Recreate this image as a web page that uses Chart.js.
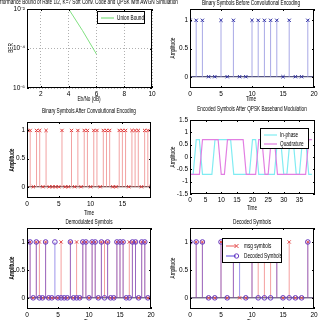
<!DOCTYPE html>
<html>
<head>
<meta charset="utf-8">
<script src="https://cdn.jsdelivr.net/npm/chart.js@4.4.1/dist/chart.umd.min.js"></script>
<style>
  body { margin: 0; background: #fff; }
  #fig { position: relative; width: 320px; height: 320px; overflow: hidden; background: #fff; }
  #fig canvas { position: absolute; }
  .t { position: absolute; font-family: 'Liberation Sans', Arial, sans-serif; font-size: 6.5px; line-height: 1;
       white-space: nowrap; color: #000; transform: translate(-50%, -50%) scaleX(0.72); }
  .r { transform: translate(-50%, -50%) rotate(-90deg) scaleX(0.72); }
  .b { font-weight: bold; }
  .lg { position: absolute; background: #fff; border: 1px solid #000; box-sizing: border-box; }
  .lg .row { position: absolute; left: 2px; height: 6px; }
  .lg svg { position: absolute; left: 0; top: 0; }
  .lg span { position: absolute; top: 3px; font-family: 'Liberation Sans', Arial, sans-serif; font-size: 6.5px; line-height: 1;
             white-space: nowrap; transform-origin: 0 50%; transform: translateY(-50%) scaleX(0.72); }
</style>
</head>
<body>
<div id="fig"></div>
<script>
// BER vs Eb/No (union bound)
const ebno = [4, 5, 6];
const unionBound = [1.0e-2, 8.0e-4, 5.2e-5];
const berTicksX = [2, 4, 6, 8, 10];
const berTicksY = [1e-6, 1e-4, 1e-2];
const berTickLabels = ['10⁻⁶', '10⁻⁴', '10⁻²'];

// message bits
const msgTime = [0, 1, 2, 3, 4, 5, 6, 7, 8, 9, 10, 11, 12, 13, 14, 15, 16, 17, 18, 19];
const msgBits = [1, 1, 1, 0, 0, 1, 0, 1, 0, 0, 1, 1, 1, 1, 1, 0, 1, 0, 0, 1];
const decodedBits = [1, 1, 1, 0, 0, 1, 0, 1, 1, 0, 1, 0, 0, 0, 1, 0, 0, 0, 0, 1];

// encoded bits (two per message bit)
const encTime = [0, 0.5, 1, 1.5, 2, 2.5, 3, 3.5, 4, 4.5, 5, 5.5, 6, 6.5, 7, 7.5, 8, 8.5, 9, 9.5,
                 10, 10.5, 11, 11.5, 12, 12.5, 13, 13.5, 14, 14.5, 15, 15.5, 16, 16.5, 17, 17.5, 18, 18.5, 19, 19.5];
const encBits = [1, 1, 0, 1, 1, 0, 1, 0, 0, 0, 0, 1, 0, 0, 1, 0, 1, 0, 1, 1,
                 0, 1, 1, 0, 1, 1, 1, 0, 0, 1, 1, 1, 0, 1, 1, 1, 0, 1, 1, 0];
const demodBits = [1, 1, 0, 1, 0, 0, 1, 0, 0, 1, 0, 0, 0, 0, 1, 0, 0, 0, 1, 1,
                   0, 1, 1, 0, 1, 0, 1, 0, 0, 1, 1, 1, 0, 0, 1, 1, 0, 1, 1, 0];

// QPSK baseband
const qpskTime = [0, 1, 2, 3, 4, 5, 6, 7, 8, 9, 10, 11, 12, 13, 14, 15, 16, 17, 18, 19,
                  20, 21, 22, 23, 24, 25, 26, 27, 28, 29, 30, 31, 32, 33, 34, 35, 36, 37, 38, 39];
const inPhase = [-0.707, -0.707, 0.707, 0.707, -0.707, -0.707, -0.707, -0.707, 0.707, 0.707,
                 0.707, 0.707, 0.707, 0.707, -0.707, -0.707, -0.707, -0.707, -0.707, -0.707,
                 0.707, 0.707, -0.707, -0.707, -0.707, -0.707, -0.707, -0.707, 0.707, 0.707,
                 -0.707, -0.707, 0.707, 0.707, -0.707, -0.707, 0.707, 0.707, -0.707, -0.707];
const quadrature = [-0.707, -0.707, -0.707, -0.707, 0.707, 0.707, 0.707, 0.707, 0.707, 0.707,
                    -0.707, -0.707, 0.707, 0.707, 0.707, 0.707, 0.707, 0.707, -0.707, -0.707,
                    -0.707, -0.707, 0.707, 0.707, -0.707, -0.707, 0.707, 0.707, -0.707, -0.707,
                    -0.707, -0.707, -0.707, -0.707, -0.707, -0.707, -0.707, -0.707, 0.707, 0.707];

const ampTicks = [0, 0.5, 1];
const qpskTicksY = [-1.5, -1, -0.5, 0, 0.5, 1, 1.5];
const qpskTicksX = [0, 5, 10, 15, 20, 25, 30, 35];
const time20Ticks = [0, 5, 10, 15, 20];
const time19Ticks = [0, 5, 10, 15];

Chart.defaults.font.family = "'Liberation Sans Narrow', 'Liberation Sans', Arial, sans-serif";
Chart.defaults.font.size = 6.5;
Chart.defaults.color = '#000';

const fig = document.getElementById('fig');
const PL = 26, PR = 6, PT = 6, PB = 14;

// box + inward tick marks, matlab style
const boxPlugin = {
  id: 'box',
  afterDatasetsDraw(chart) {
    const a = chart.chartArea, ctx = chart.ctx;
    ctx.save();
    ctx.strokeStyle = '#000';
    ctx.lineWidth = 1;
    ctx.strokeRect(a.left + 0.5, a.top + 0.5, a.right - a.left - 1, a.bottom - a.top - 1);
    ctx.beginPath();
    chart.scales.x.ticks.forEach(t => {
      const px = Math.round(chart.scales.x.getPixelForValue(t.value)) + 0.5;
      ctx.moveTo(px, a.bottom); ctx.lineTo(px, a.bottom - 2);
      ctx.moveTo(px, a.top); ctx.lineTo(px, a.top + 2);
    });
    chart.scales.y.ticks.forEach(t => {
      const py = Math.round(chart.scales.y.getPixelForValue(t.value)) + 0.5;
      ctx.moveTo(a.left, py); ctx.lineTo(a.left + 2, py);
      ctx.moveTo(a.right, py); ctx.lineTo(a.right - 2, py);
    });
    ctx.stroke();
    ctx.restore();
  }
};

function stems(xs, ys) {
  const pts = [];
  xs.forEach((x, i) => { pts.push({x: x, y: 0}, {x: x, y: ys[i]}, {x: x, y: null}); });
  return pts;
}
function marks(xs, ys) { return xs.map((x, i) => ({x: x, y: ys[i]})); }

function stemSet(xs, ys, color, order) {
  return { data: stems(xs, ys), showLine: true, spanGaps: false, borderColor: color, borderWidth: 1,
           pointRadius: 0, order: order };
}
function markSet(xs, ys, style, color, order) {
  return { data: marks(xs, ys), showLine: false, pointStyle: style, pointRadius: 2.3,
           pointBorderColor: color, pointBackgroundColor: 'rgba(0,0,0,0)', pointBorderWidth: 1, order: order };
}
function baseSet(xmin, xmax, color) {
  return { data: [{x: xmin, y: 0}, {x: xmax, y: 0}], showLine: true, borderColor: color, borderWidth: 1,
           pointRadius: 0, order: 9 };
}

function axis(type, min, max, ticks, labels, horiz, grid) {
  return {
    type: type, min: min, max: max,
    afterBuildTicks: s => { s.ticks = ticks.map(v => ({value: v})); },
    afterFit: s => {
      if (horiz) s.height = PB; else s.width = PL;
      s.paddingLeft = 0; s.paddingRight = 0; s.paddingTop = 0; s.paddingBottom = 0;
    },
    grid: { display: !!grid, drawTicks: false, color: '#b0b0b0', lineWidth: 1 },
    border: { display: false, dash: [1, 2] },
    ticks: {
      padding: 2, maxRotation: 0, autoSkip: false,
      callback: v => labels ? labels[ticks.indexOf(v)] : String(v)
    }
  };
}

function panel(box, xAxis, yAxis, datasets) {
  const c = document.createElement('canvas');
  c.width = box.r - box.l + PL + PR;
  c.height = box.b - box.t + PT + PB;
  c.style.left = (box.l - PL) + 'px';
  c.style.top = (box.t - PT) + 'px';
  fig.appendChild(c);
  return new Chart(c, {
    type: 'scatter',
    data: { datasets: datasets },
    options: {
      responsive: false, animation: false, events: [],
      layout: { padding: { left: 0, top: PT, right: PR, bottom: 0 } },
      plugins: { legend: { display: false }, tooltip: { enabled: false } },
      scales: { x: xAxis, y: yAxis }
    },
    plugins: [boxPlugin]
  });
}

function txt(s, x, y, cls) {
  const d = document.createElement('div');
  d.className = 't ' + (cls || '');
  d.textContent = s;
  d.style.left = x + 'px';
  d.style.top = y + 'px';
  fig.appendChild(d);
}

function legend(l, t, w, h, rows) {
  const d = document.createElement('div');
  d.className = 'lg';
  d.style.left = l + 'px'; d.style.top = t + 'px';
  d.style.width = w + 'px'; d.style.height = h + 'px';
  rows.forEach(r => {
    const row = document.createElement('div');
    row.className = 'row';
    row.style.top = r.y + 'px';
    let mk = '';
    if (r.marker === 'x') mk = `<path d="M9.5 1 L13.5 5 M13.5 1 L9.5 5" stroke="${r.mcolor}" stroke-width="1"/>`;
    if (r.marker === 'o') mk = `<circle cx="11.5" cy="3" r="2.2" fill="none" stroke="${r.mcolor}" stroke-width="1"/>`;
    row.innerHTML = `<svg width="16" height="6"><line x1="1" y1="3" x2="${r.marker ? 11 : 14}" y2="3" stroke="${r.color}" stroke-width="1.2"/>${mk}</svg>` +
                    `<span style="left:${r.tx}px">${r.label}</span>`;
    d.appendChild(row);
  });
  fig.appendChild(d);
}

// 1: BER union bound
panel({l: 27, t: 9, r: 152, b: 88},
  axis('linear', 1, 10, berTicksX, null, true, true),
  axis('logarithmic', 1e-6, 1e-2, berTicksY, berTickLabels, false, true),
  [{ data: marks(ebno, unionBound), showLine: true, borderColor: '#80e080', borderWidth: 1, pointRadius: 0 }]);

// 2: message bits
panel({l: 190, t: 9, r: 314, b: 88},
  axis('linear', 0, 20, time20Ticks, null, true),
  axis('linear', -0.2, 1.2, ampTicks, null, false),
  [markSet(msgTime, msgBits, 'crossRot', '#2a2aa0', 0),
   stemSet(msgTime, msgBits, '#a8a8e6', 1),
   baseSet(0, 20, '#2a2a60')]);

// 3: encoded bits
panel({l: 27, t: 122, r: 151, b: 198},
  axis('linear', 0, 19.5, time19Ticks, null, true),
  axis('linear', -0.2, 1.15, ampTicks, null, false),
  [markSet(encTime, encBits, 'crossRot', '#e03a3a', 0),
   stemSet(encTime, encBits, '#f2a2a2', 1),
   baseSet(0, 19.5, '#5a2020')]);

// 4: QPSK baseband
panel({l: 190, t: 120, r: 315, b: 194},
  axis('linear', 0, 40, qpskTicksX, null, true),
  axis('linear', -1.5, 1.5, qpskTicksY, null, false),
  [{ data: marks(qpskTime, quadrature), showLine: true, borderColor: '#e27ee2', borderWidth: 1.2, pointRadius: 0, order: 0 },
   { data: marks(qpskTime, inPhase), showLine: true, borderColor: '#80ecf2', borderWidth: 1.2, pointRadius: 0, order: 1 }]);

// 5: demodulated
panel({l: 27, t: 228, r: 151, b: 309},
  axis('linear', 0, 20, time20Ticks, null, true),
  axis('linear', -0.2, 1.25, ampTicks, null, false),
  [markSet(encTime, demodBits, 'circle', '#6a3cc0', 0),
   markSet(encTime, encBits, 'crossRot', '#e04848', 1),
   stemSet(encTime, demodBits, 'rgba(80,60,220,0.55)', 2),
   stemSet(encTime, encBits, 'rgba(235,80,80,0.55)', 3),
   baseSet(0, 20, '#40305a')]);

// 6: decoded
panel({l: 190, t: 228, r: 314, b: 309},
  axis('linear', 0, 20, time20Ticks, null, true),
  axis('linear', -0.2, 1.25, ampTicks, null, false),
  [markSet(msgTime, decodedBits, 'circle', '#6a3cc0', 0),
   markSet(msgTime, msgBits, 'crossRot', '#e04848', 1),
   stemSet(msgTime, decodedBits, 'rgba(80,60,220,0.55)', 2),
   stemSet(msgTime, msgBits, 'rgba(235,80,80,0.55)', 3),
   baseSet(0, 20, '#40305a')]);

// titles and axis labels
txt('Performance Bound of Rate 1/2, K=7 Soft Conv. Code and QPSK with AWGN Simulation', 86, 1.5);
txt('Eb/No (dB)', 89, 99);
txt('BER', 11, 48, 'r');
txt('Binary Symbols Before Convolutional Encoding', 251, 2.5);
txt('Time', 251, 99);
txt('Amplitude', 173, 48, 'r');
txt('Binary Symbols After Convolutional Encoding', 89, 110.5);
txt('Time', 89, 213);
txt('Amplitude', 12, 160, 'r b');
txt('Encoded Symbols After QPSK Baseband Modulation', 252, 109);
txt('Time', 252, 208);
txt('Amplitude', 173, 157, 'r');
txt('Demodulated Symbols', 89, 222);
txt('Time', 89, 322);
txt('Amplitude', 12, 268, 'r b');
txt('Decoded Symbols', 252, 222);
txt('Time', 252, 322);
txt('Amplitude', 173, 268, 'r');

legend(97, 11, 48, 13, [{y: 3, color: '#80e080', label: 'Union Bound', tx: 17}]);
legend(260, 128, 49, 21, [{y: 3, color: '#80ecf2', label: 'In-phase', tx: 17},
                          {y: 11.5, color: '#e27ee2', label: 'Quadrature', tx: 17}]);
legend(222, 238, 60, 25, [{y: 3.5, color: 'rgba(235,80,80,0.8)', marker: 'x', mcolor: '#e04848', label: 'msg symbols', tx: 19},
                          {y: 14, color: 'rgba(80,60,220,0.8)', marker: 'o', mcolor: '#6a3cc0', label: 'Decoded Symbols', tx: 19}]);
</script>
</body>
</html>
